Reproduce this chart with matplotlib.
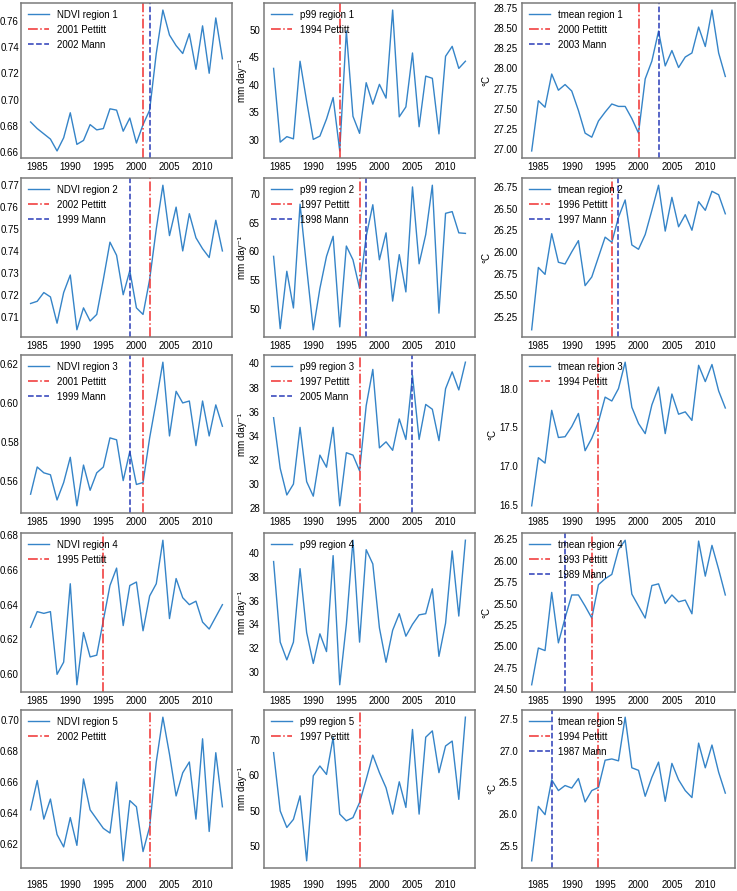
import matplotlib
matplotlib.use("Agg")
import matplotlib.pyplot as plt
from matplotlib.ticker import MultipleLocator

plt.rcParams['font.family'] = ['Liberation Sans', 'DejaVu Sans']

years = list(range(1984, 2014))

# NDVI
ndvi_r1 = [0.683, 0.678, 0.674, 0.670, 0.661, 0.671, 0.690, 0.666, 0.669, 0.681,
           0.677, 0.678, 0.693, 0.692, 0.676, 0.686, 0.667, 0.681, 0.692, 0.735,
           0.768, 0.749, 0.741, 0.735, 0.750, 0.723, 0.756, 0.720, 0.762, 0.731]
ndvi_r2 = [0.716, 0.717, 0.721, 0.719, 0.707, 0.721, 0.729, 0.704, 0.714, 0.708,
           0.711, 0.727, 0.744, 0.738, 0.720, 0.731, 0.714, 0.711, 0.727, 0.750,
           0.770, 0.747, 0.760, 0.740, 0.757, 0.746, 0.741, 0.737, 0.754, 0.740]
ndvi_r3 = [0.553, 0.567, 0.564, 0.563, 0.550, 0.559, 0.572, 0.547, 0.568, 0.555,
           0.564, 0.567, 0.582, 0.581, 0.560, 0.575, 0.558, 0.559, 0.582, 0.601,
           0.621, 0.583, 0.606, 0.600, 0.601, 0.578, 0.601, 0.583, 0.599, 0.588]
ndvi_r4 = [0.627, 0.636, 0.635, 0.636, 0.600, 0.607, 0.652, 0.594, 0.624, 0.610,
           0.611, 0.631, 0.651, 0.661, 0.628, 0.651, 0.653, 0.625, 0.645, 0.652,
           0.677, 0.632, 0.655, 0.644, 0.640, 0.642, 0.630, 0.626, 0.633, 0.640]
ndvi_r5 = [0.642, 0.661, 0.636, 0.649, 0.626, 0.618, 0.637, 0.619, 0.662, 0.642,
           0.636, 0.630, 0.627, 0.660, 0.609, 0.648, 0.644, 0.615, 0.631, 0.673,
           0.702, 0.678, 0.651, 0.666, 0.673, 0.636, 0.688, 0.628, 0.679, 0.644]

# p99 precipitation
p99_r1 = [43.0, 29.6, 30.6, 30.2, 44.3, 37.0, 30.1, 30.7, 33.8, 37.7,
          28.0, 49.8, 34.3, 31.2, 40.4, 36.5, 40.1, 37.6, 53.6, 34.2,
          36.0, 45.8, 32.4, 41.6, 41.2, 31.1, 45.2, 47.0, 43.0, 44.3]
p99_r2 = [59.1, 46.5, 56.5, 50.1, 68.2, 57.1, 46.3, 53.5, 59.1, 62.6,
          46.8, 60.9, 58.5, 53.5, 62.6, 68.1, 58.5, 63.2, 51.3, 59.4,
          52.9, 71.2, 57.8, 62.9, 71.5, 49.2, 66.6, 66.9, 63.2, 63.1]
p99_r3 = [35.5, 31.3, 29.1, 30.0, 34.7, 30.2, 29.0, 32.4, 31.4, 34.7,
          28.2, 32.6, 32.4, 31.1, 36.5, 39.5, 33.0, 33.5, 32.8, 35.4,
          33.7, 39.0, 33.7, 36.6, 36.2, 33.6, 37.9, 39.3, 37.8, 40.1]
p99_r4 = [39.3, 32.5, 31.0, 32.5, 38.7, 33.3, 30.7, 33.2, 31.7, 39.8,
          28.9, 34.0, 41.1, 32.5, 40.3, 39.1, 33.7, 30.8, 33.5, 34.9,
          33.0, 34.0, 34.8, 34.9, 37.0, 31.3, 34.1, 40.2, 34.7, 41.1]
p99_r5 = [66.5, 49.9, 45.2, 47.5, 54.2, 35.7, 59.9, 62.7, 60.3, 70.8,
          49.0, 47.1, 48.0, 52.3, 58.9, 65.8, 60.8, 56.5, 49.0, 58.2,
          50.9, 73.1, 49.0, 70.9, 72.7, 60.8, 68.4, 69.8, 53.2, 76.6]

# mean temperature
tmean_r1 = [26.98, 27.60, 27.52, 27.93, 27.73, 27.80, 27.72, 27.48, 27.20, 27.15,
            27.35, 27.46, 27.56, 27.53, 27.53, 27.38, 27.20, 27.87, 28.09, 28.46,
            28.03, 28.22, 28.01, 28.14, 28.19, 28.51, 28.27, 28.72, 28.19, 27.90]
tmean_r2 = [25.10, 25.82, 25.74, 26.21, 25.88, 25.86, 26.00, 26.13, 25.61, 25.71,
            25.94, 26.17, 26.11, 26.40, 26.60, 26.08, 26.03, 26.20, 26.48, 26.77,
            26.24, 26.63, 26.29, 26.43, 26.25, 26.58, 26.48, 26.70, 26.66, 26.44]
tmean_r3 = [16.49, 17.11, 17.04, 17.72, 17.37, 17.38, 17.51, 17.68, 17.20, 17.36,
            17.57, 17.89, 17.84, 18.00, 18.34, 17.76, 17.55, 17.42, 17.79, 18.02,
            17.42, 17.93, 17.67, 17.70, 17.59, 18.30, 18.09, 18.31, 17.97, 17.75]
tmean_r4 = [24.55, 24.98, 24.95, 25.63, 25.04, 25.33, 25.60, 25.60, 25.47, 25.33,
            25.72, 25.79, 25.84, 26.13, 26.24, 25.61, 25.47, 25.33, 25.71, 25.73,
            25.50, 25.60, 25.52, 25.54, 25.38, 26.23, 25.82, 26.18, 25.90, 25.60]
tmean_r5 = [25.26, 26.12, 25.99, 26.54, 26.37, 26.45, 26.41, 26.56, 26.19, 26.37,
            26.42, 26.85, 26.87, 26.84, 27.53, 26.73, 26.69, 26.28, 26.58, 26.82,
            26.20, 26.80, 26.54, 26.37, 26.26, 27.12, 26.73, 27.09, 26.66, 26.33]

# change points (Pettitt, Mann), None where not shown
ndvi_breaks = [(2001, 2002), (2002, 1999), (2001, 1999), (1995, None), (2002, None)]
p99_breaks = [(1994, None), (1997, 1998), (1997, 2005), (None, None), (1997, None)]
tmean_breaks = [(2000, 2003), (1996, 1997), (1994, None), (1993, 1989), (1994, 1987)]

ndvi_step = [0.02, 0.01, 0.02, 0.02, 0.02]
p99_step = [5, 5, 2, 2, 10]
tmean_step = [0.25, 0.25, 0.5, 0.25, 0.5]

columns = [
    ("NDVI", [ndvi_r1, ndvi_r2, ndvi_r3, ndvi_r4, ndvi_r5], ndvi_breaks, ndvi_step, None),
    ("p99", [p99_r1, p99_r2, p99_r3, p99_r4, p99_r5], p99_breaks, p99_step, "mm day\u207b\u00b9"),
    ("tmean", [tmean_r1, tmean_r2, tmean_r3, tmean_r4, tmean_r5], tmean_breaks, tmean_step, "\u00b0C"),
]

# pixel layout of the 737x891 figure
W, H = 737, 891
col_x = [(21, 232), (264, 475), (522, 735)]
row_y = [(3, 158), (178, 337), (355, 513), (533, 692), (710, 868)]

fig = plt.figure(figsize=(W / 100, H / 100), dpi=100)

for c, (name, series, breaks, steps, ylab) in enumerate(columns):
    for r in range(5):
        x0, x1 = col_x[c]
        y0, y1 = row_y[r]
        ax = fig.add_axes([x0 / W, 1 - y1 / H, (x1 - x0) / W, (y1 - y0) / H])
        ax.plot(years, series[r], color='#3584c8', lw=1.0,
                label=f"{name} region {r + 1}")
        pet, mann = breaks[r]
        if pet is not None:
            ax.axvline(pet, color='#f03030', ls='-.', lw=1.1, label=f"{pet} Pettitt")
        if mann is not None:
            ax.axvline(mann, color='#2a3cb8', ls='--', lw=1.1, label=f"{mann} Mann")
        ax.xaxis.set_major_locator(MultipleLocator(5))
        ax.yaxis.set_major_locator(MultipleLocator(steps[r]))
        ax.set_xlim(1982.55, 2014.45)
        ax.tick_params(length=0, labelsize=7, pad=3)
        if c == 0:
            ax.tick_params(axis='y', pad=1.5)
        if r == 4:
            ax.tick_params(axis='x', pad=9)
        for s in ax.spines.values():
            s.set_color('#7a7a7a')
            s.set_linewidth(1.1)
        if ylab:
            ax.set_ylabel(ylab, fontsize=7, labelpad=1.5)
        ax.legend(loc='upper left', frameon=False, fontsize=7,
                  borderaxespad=0.3, handlelength=2.2)

        # tick labels as printed in the original figure
        if name == "p99" and r == 4:
            ax.set_yticks([40, 50, 60, 70], ['50', '50', '60', '70'])
        if name == "tmean" and r == 1:
            ticks = [25.25, 25.5, 25.75, 26.0, 26.25, 26.5, 26.75]
            ax.set_yticks(ticks, ['25.25', '25.50', '26.75', '26.00',
                                  '26.25', '26.50', '26.75'])

fig.savefig("out.png", dpi=100)
